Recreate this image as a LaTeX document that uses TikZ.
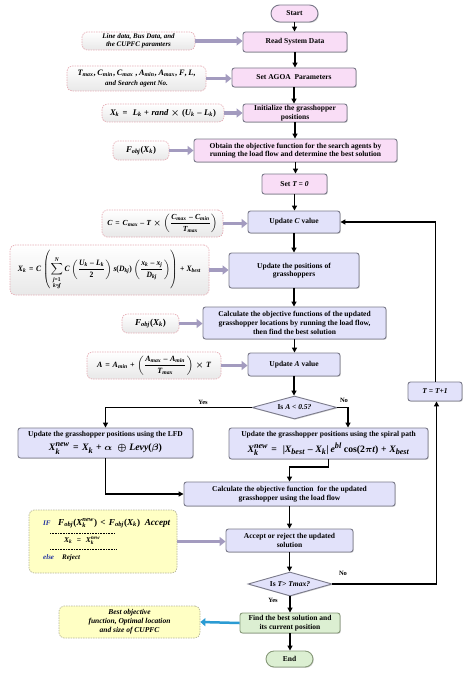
\documentclass[tikz,border=0pt]{standalone}
\usepackage{amsmath,amssymb}
\usepackage{graphicx}
\usepackage[no-math]{fontspec}
\setmainfont{Liberation Serif}
\usepackage[italic]{mathastext}
\usetikzlibrary{shapes.geometric,shapes.misc,arrows.meta,shadows,calc}
\definecolor{pinkfill}{HTML}{F9DDF6}
\definecolor{lavfill}{HTML}{E2E2FA}
\definecolor{greenfill}{HTML}{DCEFD2}
\definecolor{bordgray}{HTML}{7A7A8A}
\definecolor{greenbord}{HTML}{869878}
\definecolor{pinkdash}{HTML}{E6AEB6}
\definecolor{arrowgray}{HTML}{A39BBF}
\definecolor{yellowfill}{HTML}{FFFFC4}
\definecolor{yellowbord}{HTML}{B5B59C}
\definecolor{bluearrow}{HTML}{2B9BD3}
\definecolor{ifblue}{HTML}{1F2F9F}
\newcommand{\fitto}[2]{\resizebox{#1}{!}{#2}}
\begin{document}
\begin{tikzpicture}[x=1pt,y=-1pt,
  boxfont/.style={font=\fontsize{7.5}{8.6}\selectfont\bfseries},
  shad/.style={drop shadow={shadow xshift=0.8pt,shadow yshift=-0.8pt,opacity=0.3,fill=black!60}},
  box/.style={draw=bordgray,line width=0.9pt,rounded corners=2.5pt,inner sep=1pt,align=center,boxfont,shad},
  pinkbox/.style={box,fill=pinkfill},
  lavbox/.style={box,fill=lavfill},
  greenbox/.style={box,fill=greenfill,draw=greenbord},
  termbox/.style={rounded rectangle,draw=bordgray,line width=0.9pt,inner sep=1pt,align=center,boxfont,shad},
  decbox/.style={diamond,draw=bordgray,line width=0.9pt,fill=lavfill,inner sep=0pt,aspect=3.7,align=center,boxfont,shad},
  inbox/.style={draw=pinkdash,line width=0.7pt,dash pattern=on 1.5pt off 1pt,rounded corners=5pt,top color=white,bottom color=black!9,inner sep=1pt,align=center,font=\fontsize{7}{8}\selectfont\bfseries\itshape\boldmath},
  ylbox/.style={draw=yellowbord,line width=0.7pt,dash pattern=on 1.5pt off 1pt,rounded corners=5pt,fill=yellowfill,inner sep=1pt,align=center,font=\fontsize{7.5}{9}\selectfont\bfseries\itshape\boldmath},
  flow/.style={line width=1.2pt,-{Triangle[length=5pt,width=5pt]}},
  grayarrow/.style={draw=arrowgray,line width=3.5pt,-{Triangle[length=6pt,width=9pt]}},
  bluearr/.style={draw=bluearrow,line width=2.5pt,-{Triangle[length=5pt,width=8pt]}},
  lbl/.style={font=\fontsize{6.5}{7}\selectfont\bfseries,inner sep=0pt}
]
\useasboundingbox (0,0) rectangle (474,674);

% ---- main column ----
\node[termbox,fill=pinkfill,minimum width=49pt,minimum height=17pt] (start) at (294.5,13.5) {Start};
\node[pinkbox,minimum width=104pt,minimum height=20pt] (read) at (295,42) {Read System Data};
\node[pinkbox,minimum width=124pt,minimum height=19pt] (agoa) at (294,77.5) {Set AGOA\ \ Parameters};
\node[pinkbox,minimum width=104pt,minimum height=18pt] (init) at (295,113) {Initialize the grasshopper\\positions};
\node[pinkbox,minimum width=203pt,minimum height=23pt] (obtain) at (295.5,150.5) {Obtain the objective function for the search agents by\\running the load flow and determine the best solution};
\node[pinkbox,minimum width=65pt,minimum height=20pt] (sett) at (294.5,184) {Set \textit{T = 0}};
\node[lavbox,minimum width=92pt,minimum height=22pt] (updc) at (294,222) {Update \textit{C} value};
\node[lavbox,minimum width=130pt,minimum height=35pt] (updpos) at (294,270.5) {Update the positions of\\grasshoppers};
\node[lavbox,minimum width=183pt,minimum height=32pt] (calc1) at (294.5,323) {Calculate the objective functions of the updated\\grasshopper locations by running the load flow,\\then find the best solution};
\node[lavbox,minimum width=92pt,minimum height=23pt] (upda) at (294,364.5) {Update \textit{A} value};
\node[decbox,minimum width=85pt,minimum height=23pt] (dia1) at (294.5,407.5) {Is \textit{A} \textless{} \textit{0.5?}};
\node[lavbox,minimum width=175pt,minimum height=30pt] (lfd) at (105.5,443) {Update the grasshopper positions using the LFD\\[3.5pt]\fitto{113pt}{\boldmath$X_k^{new} = X_k + \alpha\ \oplus Levy(\beta)$}};
\node[lavbox,minimum width=199pt,minimum height=31pt] (spiral) at (328.5,443.5) {Update the grasshopper positions using the spiral path\\[3.5pt]\fitto{162pt}{\boldmath$X_k^{new} =\ |X_{best} - X_k|\, e^{bl}\cos(2\pi t) + X_{best}$}};
\node[lavbox,minimum width=211pt,minimum height=24pt] (calc2) at (289.5,494) {Calculate the objective function\ \ for the updated\\grasshopper using the load flow};
\node[lavbox,minimum width=127pt,minimum height=23pt] (accept) at (289.5,540.5) {Accept or reject the updated\\solution};
\node[decbox,minimum width=84pt,minimum height=24pt] (dia2) at (290,584) {Is \textit{T\textgreater{} Tmax?}};
\node[greenbox,minimum width=100pt,minimum height=20pt] (find) at (290,623) {Find the best solution and\\its current position};
\node[termbox,fill=greenfill,draw=greenbord,minimum width=49pt,minimum height=16pt] (end) at (289.5,659) {End};
\node[lavbox,minimum width=54pt,minimum height=19pt] (tt) at (435,391.5) {\textit{T = T+1}};

% ---- inputs ----
\node[inbox,minimum width=113pt,minimum height=18pt] (in1) at (138.5,41) {Line data, Bus Data, and\\the CUPFC paramters};
\node[inbox,minimum width=139pt,minimum height=25pt] (in2) at (136.5,78.5) {\fitto{118pt}{$T_{max}, C_{min}, C_{max}\,, A_{min}, A_{max}, F, L,$}\\[1.5pt]and Search agent No.};
\node[inbox,minimum width=122pt,minimum height=18pt] (in3) at (163,113) {\fitto{106pt}{$X_k =\ L_k + rand \times (U_k - L_k)$}};
\node[inbox,minimum width=56pt,minimum height=19pt] (in4) at (141,150.5) {\fitto{30pt}{$F_{obj}(X_k)$}};
\node[inbox,minimum width=121pt,minimum height=27pt] (in5) at (162.5,223.5) {\fitto{110pt}{$C = C_{max} - T \times \left(\dfrac{C_{max} - C_{min}}{T_{max}}\right)$}};
\node[inbox,minimum width=199pt,minimum height=50pt] (in6) at (109.5,270) {\resizebox*{183pt}{40pt}{$\displaystyle X_k = C\left(\sum_{\substack{j=1\\ k\neq j}}^{N} C\left(\frac{U_k - L_k}{2}\right) s(D_{kj})\left(\frac{x_k - x_j}{D_{kj}}\right)\right) + X_{best}$}};
\node[inbox,minimum width=57pt,minimum height=19pt] (in7) at (150.5,323.5) {\fitto{31pt}{$F_{obj}(X_k)$}};
\node[inbox,minimum width=134pt,minimum height=27pt] (in8) at (154,365.5) {\fitto{114pt}{$A = A_{min} + \left(\dfrac{A_{max} - A_{min}}{T_{max}}\right) \times T$}};
\node[ylbox,minimum width=148pt,minimum height=63pt] (in9) at (103,541.5) {};
\node[ylbox,minimum width=141pt,minimum height=32pt] (out) at (129.5,622) {Best objective\\function, Optimal location\\and size of CUPFC};

% contents of the IF box
\begin{scope}[font=\fontsize{7}{8}\selectfont\bfseries\itshape\boldmath]
\node[anchor=west,inner sep=0pt,text=ifblue] (ifw) at (43,523) {IF};
\node[anchor=west,inner sep=0pt] (ifc) at (58,523) {\fitto{112pt}{$F_{obj}(X_k^{new}) < F_{obj}(X_k)$\ \ Accept}};
\node[anchor=west,inner sep=0pt] (xeq) at (64,541) {\fitto{36pt}{$X_k\ =\ X_k^{new}$}};
\node[anchor=west,inner sep=0pt,text=ifblue] (elsew) at (43,557.5) {else};
\node[anchor=west,inner sep=0pt] (rej) at (62,557.5) {Reject};
\end{scope}
\draw[line width=0.5pt,dash pattern=on 1pt off 0.6pt] (50,533.5) -- (115,533.5);
\draw[line width=0.5pt,dash pattern=on 1pt off 0.6pt] (50,549) -- (116,549);

% ---- main flow arrows ----
\foreach \a/\b in {start/read,read/agoa,agoa/init,init/obtain,obtain/sett,sett/updc,updc/updpos,updpos/calc1,calc1/upda,upda/dia1,calc2/accept,accept/dia2,dia2/find,find/end}
  \draw[flow] (\a.south) -- (\a.south |- \b.north);

% branches
\draw[flow] (dia1.west) -| (lfd.north);
\draw[flow] (dia1.east) -| ([xshift=19.5pt]spiral.north);
\draw[flow] (spiral.south) -- ++(0,7.5) -| (calc2.north);
\draw[flow] (lfd.south) |- (calc2.west);
\draw[flow] (dia2.east) -| ([xshift=1.5pt]tt.south);
\draw[flow] ([xshift=0.5pt]tt.north) |- (updc.east);

% labels
\node[lbl] (yes1) at (203,402) {Yes};
\node[lbl] (no1) at (344,400) {No};
\node[lbl] (no2) at (343,573) {No};
\node[lbl] (yes2) at (273,600) {Yes};

% ---- input arrows ----
\foreach \i/\b in {in1/read,in2/agoa,in3/init,in4/obtain,in5/updc,in6/updpos,in7/calc1,in8/upda,in9/accept}
  \draw[grayarrow] (\i.east) -- (\i.east -| \b.west);
\draw[bluearr] (find.west) -- (out.east);
\end{tikzpicture}
\end{document}
